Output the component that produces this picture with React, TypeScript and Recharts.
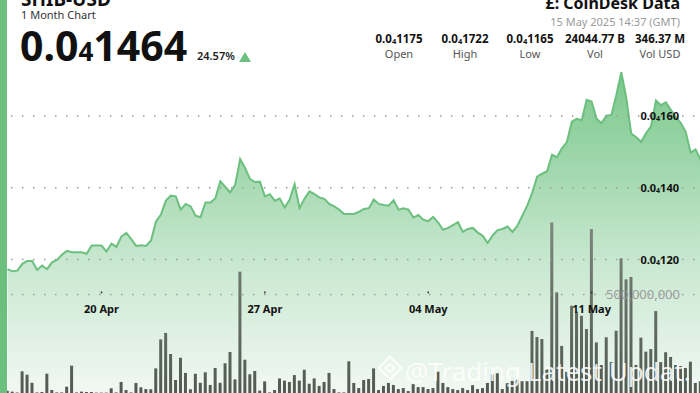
import React from "react";
import { ComposedChart, Area, Bar, XAxis, YAxis, ReferenceLine } from "recharts";

// price in units of 1e-7 USD (e.g. 146.4 => 0.0₄1464)
const priceE7 = [
  117.3, 116.7, 116.9, 118.8, 119.6, 119.6, 117.1, 118.3, 117.3, 119.2,
  119.9, 121.3, 122.4, 122.0, 122.0, 122.0, 121.6, 123.9, 123.9, 123.9,
  122.2, 124.4, 123.5, 126.4, 127.4, 125.7, 123.8, 124.0, 123.8, 125.3,
  130.6, 132.5, 136.4, 137.8, 137.6, 133.9, 135.5, 134.8, 132.2, 131.8,
  135.9, 135.9, 137.1, 141.8, 140.2, 138.7, 140.8, 148.0, 145.5, 142.4,
  141.6, 141.7, 137.6, 138.2, 136.4, 137.0, 134.5, 136.7, 141.0, 134.3,
  136.9, 139.0, 138.2, 137.3, 136.9, 135.5, 134.8, 133.9, 132.7, 132.7,
  132.7, 133.3, 134.1, 134.3, 136.7, 135.5, 135.2, 135.0, 136.5, 133.9,
  134.3, 133.9, 131.7, 132.4, 131.1, 130.7, 131.9, 130.3, 128.3, 128.8,
  129.6, 130.4, 127.7, 128.5, 128.8, 127.5, 126.6, 124.6, 126.7, 128.2,
  128.5, 129.2, 127.7, 129.4, 132.2, 135.0, 138.6, 143.1, 143.9, 144.6,
  149.2, 148.5, 151.0, 152.7, 158.4, 159.2, 158.8, 164.5, 164.0, 159.2,
  158.0, 160.1, 160.3, 165.9, 172.2, 165.1, 155.1, 154.1, 152.8, 155.2,
  157.1, 164.3, 163.0, 163.8, 161.7, 159.7, 158.1, 155.6, 149.8, 150.7,
  147.8,
];

// volume in millions
const volumeM = [
  12, 7, 3, 110, 93, 52, 3, 5, 98, 15,
  3, 3, 32, 139, 3, 7, 5, 5, 2, 2,
  2, 24, 3, 56, 15, 3, 51, 29, 20, 19,
  125, 272, 305, 198, 66, 179, 102, 19, 98, 52,
  105, 41, 127, 52, 151, 208, 69, 616, 169, 95,
  112, 12, 59, 3, 15, 74, 63, 56, 91, 63,
  118, 47, 74, 36, 56, 102, 20, 3, 3, 161,
  51, 25, 66, 71, 125, 15, 36, 51, 41, 20,
  25, 10, 45, 30, 30, 20, 25, 108, 51, 30,
  20, 15, 25, 15, 40, 20, 25, 51, 95, 100,
  20, 50, 70, 70, 60, 60, 315, 284, 274, 120,
  866, 511, 239, 107, 443, 413, 392, 325, 832, 257,
  142, 283, 157, 316, 684, 577, 589, 142, 281, 210,
  223, 416, 157, 207, 183, 142, 137, 127, 159, 51,
  60,
];

const xTickIndex = [19, 52, 85, 118];
const xTickLabels = ["20 Apr", "27 Apr", "04 May", "11 May"];
const priceTicks = [120, 140, 160];
const volTicks = [500];
const volTickLabels = ["500,000,000"];

const statLabels = ["Open", "High", "Low", "Vol", "Vol USD"];
const statValues = ["0.0₄1175", "0.0₄1722", "0.0₄1165", "24044.77 B", "346.37 M"];
const lastPrice = "0.0₄1464";
const changePct = "24.57%";

const data = priceE7.map((p, i) => ({ i, price: p, vol: volumeM[i] }));

const FONT = "'Noto Sans', 'Open Sans', sans-serif";
const GREEN = "#6cbf7e";

// render "0.0₄1175" with small subscript 4
function SubText({ s, small, dy = 0 }: { s: string; small: number; dy?: number }) {
  const k = s.indexOf("₄");
  if (k < 0) return <>{s}</>;
  return (
    <>
      {s.slice(0, k)}
      <tspan fontSize={small} dy={dy}>4</tspan>
      <tspan dy={-dy}>{s.slice(k + 1)}</tspan>
    </>
  );
}

const PriceLabel = (props: any) => {
  const { viewBox, v } = props;
  const y = viewBox ? viewBox.y : 0;
  return (
    <text x={679} y={y + 4} textAnchor="end" fontFamily={FONT} fontSize={11} fontWeight={700} fill="#111">
      <SubText s={"0.0₄" + v} small={7} dy={1} />
    </text>
  );
};

const VolLabel = (props: any) => {
  const { viewBox, text } = props;
  const y = viewBox ? viewBox.y : 0;
  return (
    <text x={680} y={y + 4.5} textAnchor="end" fontFamily={FONT} fontSize={13} fill="#9a9a9a">
      {text}
    </text>
  );
};

const XLabel = (props: any) => {
  const { viewBox, text } = props;
  const x = viewBox ? viewBox.x : 0;
  return (
    <g>
      <rect x={x - 0.75} y={291.5} width={1.5} height={1.8} fill="#333" />
      <text x={x} y={313} textAnchor="middle" fontFamily={FONT} fontSize={11} fontWeight={700} fill="#111">
        {text}
      </text>
    </g>
  );
};

const gridProps = {
  stroke: "#9c9c9c",
  strokeWidth: 1.5,
  strokeDasharray: "0 6 1.5 3.5",
};

const statCenters = [399, 465, 530, 595, 660];

export default function App() {
  return (
    <div
      style={{
        position: "fixed",
        left: 0,
        top: 0,
        width: 700,
        height: 393,
        overflow: "hidden",
        background: "#fff",
        fontFamily: FONT,
      }}
    >
      <div style={{ position: "absolute", left: 0, top: 0 }}>
        <ComposedChart
          width={712}
          height={393}
          data={data}
          margin={{ top: 0, right: 9, left: 5, bottom: 0 }}
          barCategoryGap="15%"
        >
          <defs>
            <linearGradient id="areaGrad" gradientUnits="userSpaceOnUse" x1="0" y1="67" x2="0" y2="393">
              <stop offset="0" stopColor="#79c78b" />
              <stop offset="0.28" stopColor="#9dd6aa" />
              <stop offset="0.6" stopColor="#c9e8d0" />
              <stop offset="1" stopColor="#f1f8f3" />
            </linearGradient>
            <linearGradient id="barGrad" gradientUnits="userSpaceOnUse" x1="0" y1="220" x2="0" y2="393">
              <stop offset="0" stopColor="#7f877f" />
              <stop offset="0.5" stopColor="#666f66" />
              <stop offset="1" stopColor="#525b52" />
            </linearGradient>
          </defs>
          <XAxis dataKey="i" type="category" hide />
          <YAxis yAxisId="price" hide domain={[82.79, 192.33]} allowDataOverflow />
          <YAxis yAxisId="vol" hide domain={[0, 1995]} allowDataOverflow />
          <Area
            yAxisId="price"
            type="linear"
            dataKey="price"
            stroke={GREEN}
            strokeWidth={2}
            fill="url(#areaGrad)"
            fillOpacity={1}
            isAnimationActive={false}
            dot={false}
            activeDot={false}
          />
          {volTicks.map((t, k) => (
            <ReferenceLine
              key={"v" + t}
              yAxisId="vol"
              y={t}
              {...gridProps}
              label={<VolLabel text={volTickLabels[k]} />}
            />
          ))}
          <Bar yAxisId="vol" dataKey="vol" fill="url(#barGrad)" isAnimationActive={false} />
          {priceTicks.map((t) => (
            <ReferenceLine key={t} yAxisId="price" y={t} {...gridProps} label={<PriceLabel v={t} />} />
          ))}
          {xTickIndex.map((t, k) => (
            <ReferenceLine
              key={"x" + t}
              yAxisId="price"
              x={t}
              stroke="none"
              label={<XLabel text={xTickLabels[k]} />}
            />
          ))}
        </ComposedChart>
      </div>

      <svg
        width={700}
        height={393}
        style={{ position: "absolute", left: 0, top: 0, pointerEvents: "none" }}
        fontFamily={FONT}
      >
        {/* watermark */}
        <g opacity={0.85}>
          <g transform="translate(390,368) rotate(45)" fill="none" stroke="#fff" strokeWidth={2.2}>
            <rect x={-8} y={-8} width={16} height={16} />
            <rect x={-3} y={-3} width={6} height={6} />
          </g>
          <text x={405} y={381} fontSize={26} fill="#fff" fontWeight={400}>
            @Trading Latest Updat...
          </text>
        </g>

        {/* header left */}
        <text x={21} y={5.5} fontSize={19} fontWeight={700} fill="#111">SHIB-USD</text>
        <text x={21} y={18.5} fontSize={11} fill="#333">1 Month Chart</text>
        <text x={20} y={61} fontSize={41} fontWeight={700} fill="#111">
          <SubText s={lastPrice} small={26} />
        </text>
        <text x={197} y={60} fontSize={11} fontWeight={600} fill="#222">{changePct}</text>
        <polygon points="239,62 251,62 245,52" fill={GREEN} />

        {/* header right */}
        <text x={680} y={8.5} textAnchor="end" fontSize={16} fontWeight={700} fill="#111">
          £: CoinDesk Data
        </text>
        <text x={680} y={25.5} textAnchor="end" fontSize={11} fill="#9a9a9a">
          15 May 2025 14:37 (GMT)
        </text>
        {statValues.map((v, k) => (
          <g key={k}>
            <text x={statCenters[k]} y={43} textAnchor="middle" fontSize={11.5} fontWeight={700} fill="#111">
              <SubText s={v} small={7.5} dy={1} />
            </text>
            <text x={statCenters[k]} y={58} textAnchor="middle" fontSize={11} fill="#555">
              {statLabels[k]}
            </text>
          </g>
        ))}
      </svg>

      <div style={{ position: "absolute", left: 0, top: 0, width: 7, height: 393, background: GREEN }} />
    </div>
  );
}
